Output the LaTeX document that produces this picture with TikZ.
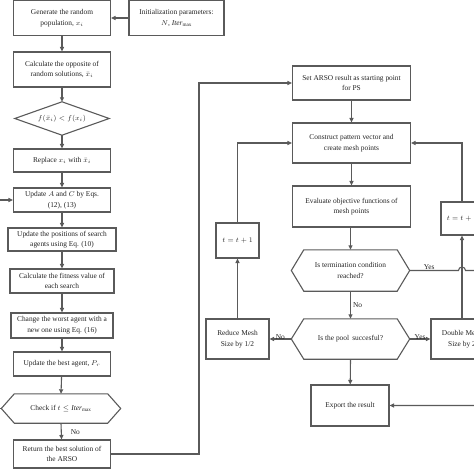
\documentclass[tikz,border=0pt]{standalone}
\usepackage{fontspec}
\setmainfont{Liberation Serif}
\usetikzlibrary{arrows.meta,calc}
\definecolor{linegray}{HTML}{5A5A5A}
\definecolor{txtgray}{HTML}{222222}
\newcommand\hexdraw[2]{\draw[boxline] (#1.west) -- ([xshift=#2]#1.north west) -- ([xshift=-#2]#1.north east) -- (#1.east) -- ([xshift=-#2]#1.south east) -- ([xshift=#2]#1.south west) -- cycle;}
\newcommand\diadraw[1]{\draw[boxline] (#1.west) -- (#1.north) -- (#1.east) -- (#1.south) -- cycle;}
\begin{document}
\begin{tikzpicture}[x=1pt,y=-1pt,
  boxline/.style={draw=linegray,line width=1.1pt},
  box/.style={boxline,inner sep=0pt,align=center,font=\fontsize{7.4}{10.6}\selectfont,text=txtgray},
  plain/.style={inner sep=0pt,align=center,font=\fontsize{7.4}{10.6}\selectfont,text=txtgray},
  conn/.style={draw=linegray,line width=1.1pt},
  arr/.style={conn,-{Triangle[length=4.5pt,width=4pt]}},
  lbl/.style={inner sep=0pt,font=\fontsize{7.4}{9}\selectfont,text=txtgray}]
\useasboundingbox (0,0) rectangle (474,474);
\clip (0,0) rectangle (474,474);
% left column
\node[box,minimum width=97,minimum height=35] (gen) at (62,18) {Generate the random\\population, $x_i$};
\node[box,minimum width=95,minimum height=35] (init) at (176.5,18) {Initialization parameters:\\$N$, $\mathit{Iter}_{\mathrm{max}}$};
\node[box,minimum width=97,minimum height=35] (opp) at (62,69.5) {Calculate the opposite of\\random solutions, $\bar{x}_i$};
\node[plain,minimum width=94,minimum height=33] (cmp) at (62,118.5) {$f(\bar{x}_i) < f(x_i)$};
\diadraw{cmp}
\node[box,minimum width=97,minimum height=23] (repl) at (62,160.5) {Replace $x_i$ with $\bar{x}_i$};
\node[box,minimum width=97,minimum height=24] (upd) at (62,200) {Update $A$ and $C$ by Eqs.\\(12), (13)};
\node[box,minimum width=108,minimum height=23] (pos) at (62,239.5) {Update the positions of search\\agents using Eq. (10)};
\node[box,minimum width=104,minimum height=24] (fit) at (62,281) {Calculate the fitness value of\\each search};
\node[box,minimum width=102,minimum height=25] (worst) at (62,325.5) {Change the worst agent with a\\new one using Eq. (16)};
\node[box,minimum width=97,minimum height=24] (best) at (62,364) {Update the best agent, $P_r$};
\node[plain,minimum width=119,minimum height=29] (check) at (61,408.5) {Check if $t \le \mathit{Iter}_{\mathrm{max}}$};
\hexdraw{check}{13}
\node[box,minimum width=97,minimum height=28] (ret) at (62,454) {Return the best solution of\\the ARSO};
% right part
\node[box,minimum width=118,minimum height=34] (set) at (351.5,83) {Set ARSO result as starting point\\for PS};
\node[box,minimum width=118,minimum height=40] (cons) at (351.5,143) {Construct pattern vector and\\create mesh points};
\node[box,minimum width=118,minimum height=41] (eval) at (351.5,206.5) {Evaluate objective functions of\\mesh points};
\node[plain,minimum width=118,minimum height=41] (term) at (350.5,270.5) {Is termination condition\\reached?};
\hexdraw{term}{12.5}
\node[plain,minimum width=118,minimum height=40] (pool) at (350.5,339) {Is the pool\, succesful?};
\hexdraw{pool}{12.5}
\node[box,minimum width=78,minimum height=41] (export) at (350,405.5) {Export the result};
\node[box,minimum width=63,minimum height=40] (reduce) at (237.5,339) {Reduce Mesh\\Size by 1/2};
\node[box,minimum width=43,minimum height=35] (tL) at (237.5,240.5) {$t = t + 1$};
\node[box,minimum width=62,minimum height=40] (double) at (462,339) {Double Mesh\\Size by 2};
\node[box,minimum width=42,minimum height=33] (tR) at (462,218.5) {$t = t + 1$};
\coordinate (retcorner) at (199,454);
\coordinate (yesleft) at (-12,408.5);
\coordinate (yesright) at (500,270.5);
\coordinate (jumpa) at (458.5,270.5);
% connectors left
\draw[arr] (init.west) -- (gen.east);
\draw[arr] (gen) -- (opp);
\draw[arr] (opp) -- (cmp.north);
\draw[arr] (cmp.south) -- (repl);
\draw[arr] (repl) -- (upd);
\draw[arr] (upd) -- (pos);
\draw[arr] (pos) -- (fit);
\draw[arr] (fit) -- (worst);
\draw[arr] (worst) -- (best);
\draw[arr] (best) -- (check.north);
\draw[arr] (check.south) -- node[lbl,right,xshift=9pt,yshift=-1pt]{No} (ret);
\draw[arr] (check.west) -- (yesleft) |- (upd.west);
\draw[arr] (ret.east) -- (retcorner) |- (set.west);
% connectors right
\draw[arr] (set) -- (cons);
\draw[arr] (cons) -- (eval);
\draw[arr] (eval.south -| term.north) -- (term.north);
\draw[arr] (term.south) -- node[lbl,right,xshift=2pt]{No} (pool.north);
\draw[arr] (pool.south) -- (export);
\draw[arr] (pool.west) -- node[lbl,above,yshift=-1pt]{No} (reduce.east);
\draw[arr] (pool.east) -- node[lbl,above,yshift=-1pt]{Yes} (double.west);
\draw[arr] (reduce.north) -- (tL.south);
\draw[arr] (tL.north) |- (cons.west);
\draw[arr] (double.north) -- (tR.south);
\draw[arr] (tR.north) |- (cons.east);
\draw[arr] (term.east) -- node[lbl,above,pos=0.4]{Yes} (jumpa) arc[start angle=180,end angle=360,radius=3.5] -- (yesright) |- (export.east);
\end{tikzpicture}
\end{document}
